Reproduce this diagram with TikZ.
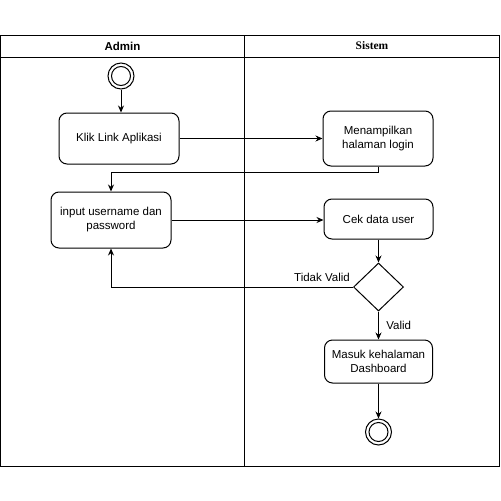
\documentclass[tikz,border=0pt]{standalone}
\usepackage{fontspec}
\setmainfont{Liberation Sans}
\newfontfamily\laneserif{Liberation Serif}
\usetikzlibrary{shapes.geometric, arrows.meta, positioning}
\tikzset{
    lane/.style={draw=black, line width=1pt},
    activity/.style={rectangle, rounded corners=8pt, draw=black, line width=1pt, align=center, inner sep=0pt, font=\fontsize{11.5}{14}\selectfont},
    decision/.style={diamond, draw=black, line width=1pt, inner sep=0pt, minimum width=50pt, minimum height=48pt},
    terminal/.style={circle, draw=black, line width=1pt, inner sep=0pt, minimum size=26pt, path picture={\draw[line width=1pt] (path picture bounding box.center) circle (9.5pt);}},
    flow/.style={-{Stealth[length=7pt, width=6pt]}, line width=1pt, black},
    guard/.style={font=\fontsize{11.5}{14}\selectfont},
}
\begin{document}
\begin{tikzpicture}[x=1pt, y=-1pt]
            \useasboundingbox (0,0) rectangle (501,501);
            % swimlanes
            \draw[lane] (0.5,35) rectangle (499.5,466);
            \draw[lane] (0.5,57.5) -- (499.5,57.5);
            \draw[lane] (244.5,35) -- (244.5,466);
            \node[font=\fontsize{11.5}{14}\selectfont\bfseries] (admin) at (122.5,46) {Admin};
            \node[font=\fontsize{11.5}{14}\selectfont\laneserif\bfseries] (sistem) at (372,46) {Sistem};
            % nodes
            \node[terminal] (start) at (121,76) {};
            \node[activity, minimum width=120pt, minimum height=51pt] (klik) at (119,138.5) {Klik Link Aplikasi};
            \node[activity, minimum width=110pt, minimum height=55pt] (tampil) at (378,138.5) {Menampilkan\\halaman login};
            \node[activity, minimum width=120pt, minimum height=56pt] (input) at (111,220) {input username dan\\password};
            \node[activity, minimum width=109pt, minimum height=40pt] (cek) at (378.5,219) {Cek data user};
            \node[decision] (valid) at (378.5,287) {};
            \node[activity, minimum width=108pt, minimum height=43pt] (masuk) at (378.5,361.5) {Masuk kehalaman\\Dashboard};
            \node[terminal] (end) at (378.5,432) {};
            \node[guard, anchor=south east, inner sep=0pt] (tidak) at ([xshift=-3pt, yshift=5pt]valid.west) {Tidak Valid};
            % connectors
            \draw[flow] (start) -- (klik.north -| start);
            \draw[flow] (klik) -- (klik -| tampil.west);
            \draw[flow] (tampil.south) |- (111,172.5) -- (input.north);
            \draw[flow] (input) -- (input -| cek.west);
            \draw[flow] (cek) -- (valid);
            \draw[flow] (valid.west) -| (input.south);
            \draw[flow] (valid) -- node[guard, right=4pt] {Valid} (masuk);
            \draw[flow] (masuk) -- (end);
\end{tikzpicture}
\end{document}
